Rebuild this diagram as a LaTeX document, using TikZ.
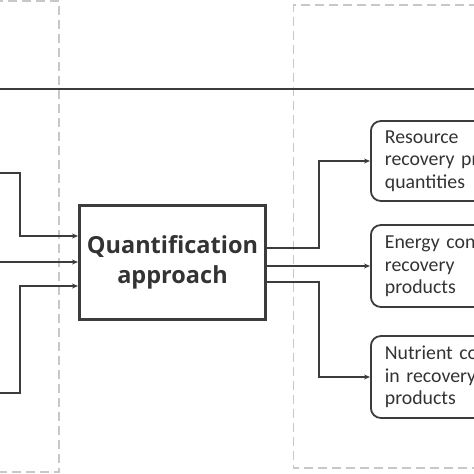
\documentclass[tikz,border=0pt]{standalone}
\usepackage{fontspec}
\setmainfont{Carlito}
\newfontfamily\quantfont{Open Sans}
\usetikzlibrary{arrows.meta}
\definecolor{linegray}{HTML}{3C3C3C}
\definecolor{dashgray}{HTML}{C8C8C8}
\definecolor{textgray}{HTML}{333333}
\tikzset{
  zone/.style={draw=dashgray, line width=1.4pt, dash pattern=on 9pt off 5pt},
  qbox/.style={draw=linegray, line width=3pt, minimum width=186pt, minimum height=114pt,
    inner sep=0pt, align=center, text=textgray,
    font=\quantfont\bfseries\fontsize{23.5}{30}\selectfont},
  outbox/.style={draw=linegray, line width=1.8pt, rounded corners=10pt, anchor=west,
    text width=175pt, inner xsep=14pt, inner ysep=0pt, align=left, text=textgray,
    font=\fontsize{19.8}{22.5}\selectfont},
  conn/.style={draw=linegray, line width=1.4pt, -{Stealth[length=6pt,width=5pt]}},
}
\begin{document}
\begin{tikzpicture}[x=1pt,y=-1pt]
\useasboundingbox (0,0) rectangle (474,474);
\clip (0,0) rectangle (474,474);
% zones
\draw[zone] (-20,1) -- (59,1) -- (59,472) -- (-20,472);
\draw[zone] (520,5) -- (293.5,5) -- (293.5,468) -- (520,468);
\draw[draw=linegray, line width=1.3pt] (-5,89) -- (480,89);
\node[anchor=west, text=textgray, font=\quantfont\fontsize{13}{15}\selectfont] (outlbl) at (470,24) {Outputs};
% central box
\node[qbox] (q) at (172.5,262.5) {Quantification\\approach};
% output boxes
\node[outbox, minimum height=80pt] (o1) at (370,161) {Resource\\recovery product\\quantities};
\node[outbox, minimum height=82pt] (o2) at (370,266) {Energy content of\\recovery\\products};
\node[outbox, minimum height=82pt] (o3) at (370,377) {Nutrient content\\in recovery\\products};
% input stubs
\coordinate (i1) at (-5,173);
\coordinate (i2) at (-5,262);
\coordinate (i3) at (-5,393);
\draw[conn] (i1) -- (20,173) -- (20,236) -- (q.west |- 0,236);
\draw[conn] (i2) -- (q.west |- 0,262);
\draw[conn] (i3) -- (20,393) -- (20,286) -- (q.west |- 0,286);
% outputs
\draw[conn] (q.east |- 0,248) -- (319,248) -- (319,161) -- (o1.west);
\draw[conn] (q.east |- 0,266) -- (o2.west);
\draw[conn] (q.east |- 0,282) -- (319,282) -- (319,377) -- (o3.west);
\end{tikzpicture}
\end{document}
